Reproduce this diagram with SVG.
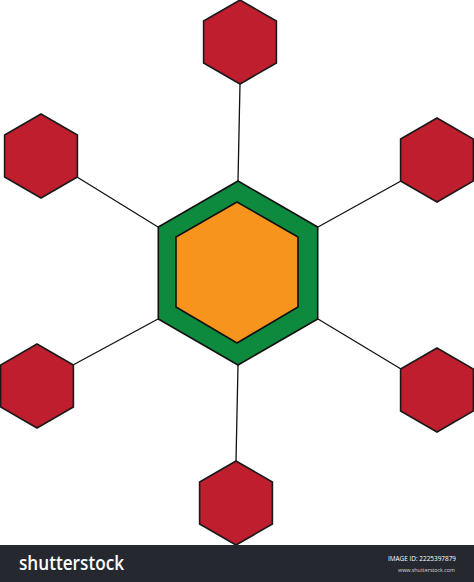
<svg xmlns="http://www.w3.org/2000/svg" width="474" height="582" viewBox="0 0 474 582">
<style>
.sat{fill:#be1e2d;stroke:#1a1a1a;stroke-width:1.6;stroke-linejoin:miter}
.ln{stroke:#111;stroke-width:1.3;fill:none}
.wm{font-family:"Open Sans","Liberation Sans",Arial,sans-serif;fill:#fff}
</style>
<defs>
<polygon id="hs" points="0,-42 36.4,-21 36.4,21 0,42 -36.4,21 -36.4,-21"/>
</defs>
<rect width="474" height="582" fill="#fff"/>
<g id="connectors">
<line class="ln" x1="238" y1="181" x2="240" y2="84"/>
<line class="ln" x1="77" y1="177" x2="158" y2="227"/>
<line class="ln" x1="401" y1="181" x2="318" y2="227"/>
<line class="ln" x1="73" y1="365" x2="158" y2="319"/>
<line class="ln" x1="401" y1="369" x2="318" y2="319"/>
<line class="ln" x1="238" y1="365" x2="236" y2="461"/>
</g>
<g id="center">
<polygon points="238,181 317.7,227 317.7,319 238,365 158.3,319 158.3,227" fill="#0e8a3e" stroke="#111" stroke-width="1.6"/>
<polygon points="237,202 298,237 298,307 237,343 176,307 176,237" fill="#f7941d" stroke="#111" stroke-width="1.6"/>
</g>
<g id="node-top"><use href="#hs" class="sat" x="240" y="42"/></g>
<g id="node-top-left"><use href="#hs" class="sat" x="41" y="156"/></g>
<g id="node-top-right"><use href="#hs" class="sat" x="437" y="160"/></g>
<g id="node-bottom-left"><use href="#hs" class="sat" x="37" y="386"/></g>
<g id="node-bottom-right"><use href="#hs" class="sat" x="437" y="390"/></g>
<g id="node-bottom"><use href="#hs" class="sat" x="236" y="503"/></g>
<g id="footer">
<rect x="0" y="545" width="474" height="37" fill="#25282e"/>
<text class="wm" x="19" y="570" font-size="20" font-weight="600" textLength="105" lengthAdjust="spacingAndGlyphs">shutterstock</text>
<text class="wm" x="388" y="561" font-size="7" textLength="68" lengthAdjust="spacingAndGlyphs">IMAGE ID: 2225397879</text>
<text class="wm" x="398" y="572" font-size="5.5" fill-opacity="0.8" textLength="57" lengthAdjust="spacingAndGlyphs">www.shutterstock.com</text>
</g>
</svg>
